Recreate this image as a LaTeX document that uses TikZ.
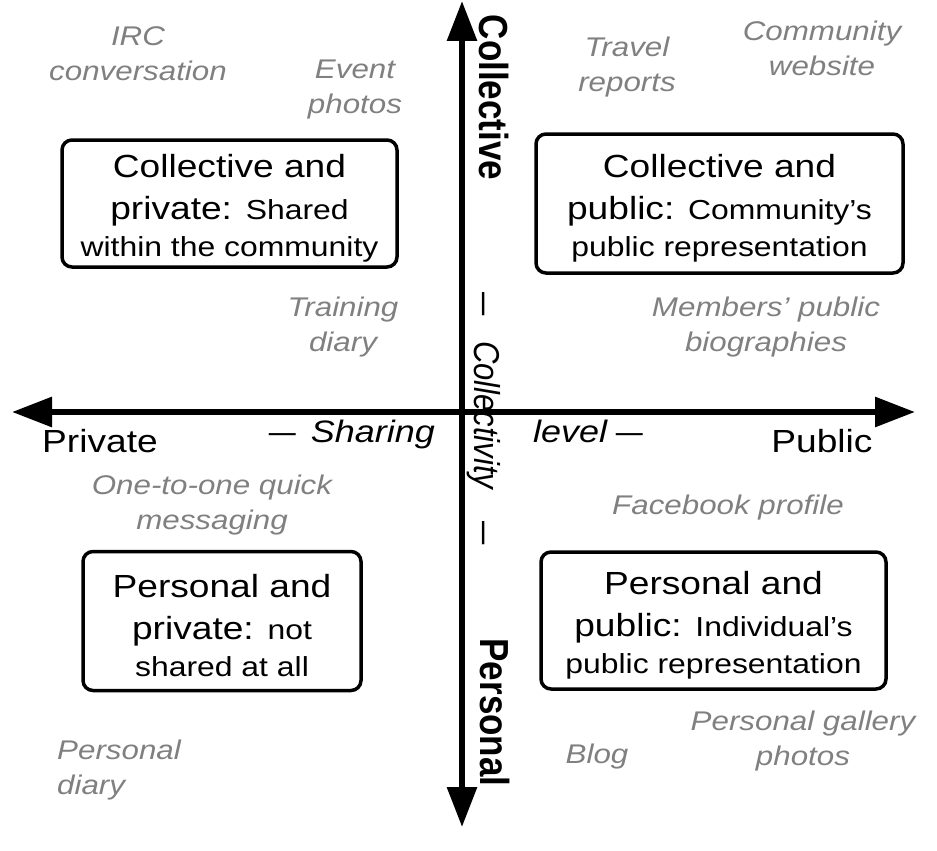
\documentclass[tikz,border=0pt]{standalone}
\usepackage{fontspec}
\usepackage{graphicx}
\setmainfont[FakeStretch=1.16]{Liberation Sans}
\newfontfamily\uprightfam{Liberation Sans}
\usetikzlibrary{arrows.meta}
\definecolor{examplegrey}{RGB}{128,128,128}
\newcommand{\bigtxt}{\fontsize{32}{40}\selectfont}
\newcommand{\smalltxt}{\fontsize{27.5}{40}\selectfont}
\newcommand{\topstrut}{\rule{0pt}{33pt}}
\newcommand{\vtext}[1]{\scalebox{1}[1.16]{#1}}
\newcommand{\sdash}{\scalebox{1.35}[1]{\textendash}}
\begin{document}
\begin{tikzpicture}[x=1pt,y=-1pt,>={Triangle[length=40pt,width=29pt]},
		axis/.style={line width=6pt},
		quad/.style={draw,line width=3.5pt,rounded corners=10pt,align=center,inner sep=0pt,font=\bigtxt},
		example/.style={text=examplegrey,align=center,inner sep=0pt,font=\fontsize{27}{35}\selectfont\itshape},
		pole/.style={inner sep=0pt,font=\bigtxt},
		vpole/.style={inner sep=0pt,rotate=-90,font=\uprightfam\fontsize{35}{40}\selectfont\bfseries}]
		\useasboundingbox (0,0) rectangle (937,851);
		\node[quad,minimum width=335pt,minimum height=127pt] (colpriv) at (229.5,203.5) {\topstrut Collective and\\[2pt]private: {\smalltxt Shared}\\[-3pt]{\smalltxt within the community}};
		\node[quad,minimum width=367pt,minimum height=139pt] (colpub) at (719.5,203.5) {\topstrut Collective and\\[2pt]public: {\smalltxt Community's}\\[-3pt]{\smalltxt public representation}};
		\node[quad,minimum width=278pt,minimum height=139pt] (perpriv) at (222,621) {\topstrut Personal and\\[2pt]private: {\smalltxt not}\\[-3pt]{\smalltxt shared at all}};
		\node[quad,minimum width=345pt,minimum height=137pt] (perpub) at (713.5,620.5) {\topstrut Personal and\\[2pt]public: {\smalltxt Individual's}\\[-3pt]{\smalltxt public representation}};
		\node[example] (irc) at (138,54) {IRC\\conversation};\node[example] (event) at (355,90) {Event\\photos};
		\node[example] (travel) at (627,67) {Travel\\reports};\node[example] (website) at (822,48) {Community\\website};
		\node[example] (training) at (343,327) {Training\\diary};\node[example] (bios) at (766,327) {Members' public\\biographies};
		\node[example] (quickmsg) at (212,505) {One-to-one quick\\messaging};\node[example] (facebook) at (728,508) {Facebook profile};
		\node[example,align=left,anchor=west] (pdiary) at (57,770) {Personal\\diary};\node[example] (blog) at (597,757) {Blog};
		\node[example] (gallery) at (803,741) {Personal gallery\\photos};
		\node[pole] (private) at (100,441) {Private};\node[pole] (public) at (822,441) {Public};
		\node[pole,anchor=base east,font=\fontsize{31}{40}\selectfont] (sharing) at (435,442) {\sdash\hspace{15pt}\textit{Sharing}};
		\node[pole,anchor=base west,font=\fontsize{31}{40}\selectfont] (level) at (533,442) {\textit{level}\hspace{8pt}\sdash};
		\node[vpole] (collective) at (494,97.5) {\vtext{Collective}};\node[vpole] (personal) at (495.5,712.5) {\vtext{Personal}};
		\node[inner sep=0pt,rotate=-90,font=\uprightfam\fontsize{31}{40}\selectfont] (collectivity) at (484,419) {\vtext{\sdash\hspace{25pt}\textit{Collectivity}\hspace{31pt}\sdash}};
		\coordinate (west) at (12,412);\coordinate (east) at (915,412);\coordinate (north) at (462,1);\coordinate (south) at (462,827);
		\draw[axis,<->] (west) -- (east);\draw[axis,<->] (south) -- (north);
	\end{tikzpicture}
\end{document}
